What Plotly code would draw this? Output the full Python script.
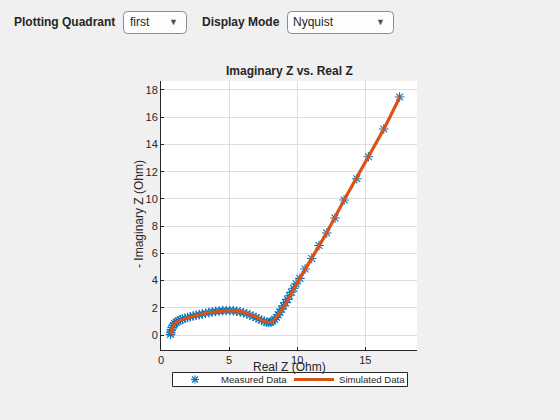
import plotly.graph_objects as go

# ---------------- data ----------------
meas_x = [0.70, 0.72, 0.76, 0.82, 0.90, 1.00, 1.12, 1.26, 1.42, 1.58, 1.76, 1.95, 2.15, 2.36,
          2.58, 2.80, 3.03, 3.27, 3.51, 3.76, 4.01, 4.27, 4.53, 4.79, 5.05, 5.31, 5.56, 5.81,
          6.06, 6.30, 6.53, 6.76, 6.98, 7.19, 7.39, 7.58, 7.76, 7.92, 8.07, 8.21, 8.34, 8.47,
          8.60, 8.73, 8.86, 9.00, 9.14, 9.28, 9.43, 9.58, 9.74, 9.92, 10.20, 10.58, 11.07,
          11.60, 12.17, 12.78, 13.45, 14.38, 15.23, 16.36, 17.52]
meas_y = [0.05, 0.20, 0.38, 0.55, 0.70, 0.84, 0.95, 1.04, 1.11, 1.17, 1.23, 1.29, 1.34, 1.40,
          1.45, 1.50, 1.55, 1.60, 1.65, 1.70, 1.74, 1.77, 1.79, 1.80, 1.80, 1.78, 1.75, 1.70,
          1.64, 1.56, 1.47, 1.38, 1.28, 1.18, 1.08, 1.00, 0.94, 0.92, 0.95, 1.03, 1.15, 1.30,
          1.48, 1.68, 1.90, 2.14, 2.38, 2.62, 2.88, 3.15, 3.44, 3.76, 4.16, 4.85, 5.62,
          6.58, 7.50, 8.60, 9.92, 11.48, 13.10, 15.13, 17.48]

sim_x = [0.75, 0.78, 0.86, 1.00, 1.27, 1.76, 2.74, 3.72, 4.95, 5.93, 6.91, 7.50, 7.90, 8.20,
         8.50, 8.87, 9.35, 10.09, 11.19, 12.17, 13.45, 15.23, 16.36, 17.55]
sim_y = [0.02, 0.30, 0.58, 0.82, 1.02, 1.22, 1.47, 1.67, 1.79, 1.70, 1.35, 1.05, 0.92, 1.00,
         1.35, 1.85, 2.65, 3.98, 5.85, 7.52, 9.92, 13.10, 15.13, 17.50]

x_ticks = [0, 5, 10, 15]
y_ticks = [0, 2, 4, 6, 8, 10, 12, 14, 16, 18]

title_text = "Imaginary Z vs. Real Z"
x_label = "Real Z (Ohm)"
y_label = "- Imaginary Z (Ohm)"
legend_names = ["Measured Data", "Simulated Data"]

BLUE = "#0072BD"
ORANGE = "#D95319"
FONT = "Liberation Sans, Arial, Helvetica, sans-serif"
W, H = 560, 420
L, R, T, B = 161, 417, 81, 350


def px(x):
    return (x - L) / (R - L)


def py(y):
    return (B - y) / (B - T)


fig = go.Figure()
fig.add_trace(go.Scatter(
    x=meas_x, y=meas_y, mode="markers", name=legend_names[0],
    marker=dict(symbol="asterisk-open", size=8, color=BLUE,
                line=dict(color=BLUE, width=1.1)),
))
fig.add_trace(go.Scatter(
    x=sim_x, y=sim_y, mode="lines", name=legend_names[1],
    line=dict(color=ORANGE, width=3.2, shape="spline", smoothing=0.8),
))

axis_common = dict(
    showgrid=True, gridcolor="#dedede", gridwidth=1,
    showline=True, linecolor="#262626", linewidth=1,
    ticks="inside", ticklen=3, tickcolor="#262626",
    tickfont=dict(family=FONT, size=11, color="#262626"),
    zeroline=False, mirror=False, fixedrange=True,
)

fig.update_xaxes(range=[0, 18.8], tickvals=x_ticks, **axis_common)
fig.update_yaxes(range=[-1.1, 18.66], tickvals=y_ticks, **axis_common)

shapes = []
annotations = []

# title and axis labels
annotations.append(dict(text="<b>" + title_text + "</b>", x=px(289), y=py(71), xref="paper", yref="paper",
                        showarrow=False, font=dict(family=FONT, size=12, color="#262626"),
                        xanchor="center", yanchor="middle"))
annotations.append(dict(text=y_label, x=px(139), y=py(214), xref="paper", yref="paper",
                        showarrow=False, textangle=-90, font=dict(family=FONT, size=12, color="#262626"),
                        xanchor="center", yanchor="middle"))
annotations.append(dict(text=x_label, x=px(289), y=py(366.5), xref="paper", yref="paper",
                        showarrow=False, font=dict(family=FONT, size=12, color="#262626"),
                        xanchor="center", yanchor="middle"))


def rounded_rect(x0, y0, x1, y1, r=4):
    X0, X1 = px(x0), px(x1)
    Y0, Y1 = py(y0), py(y1)
    rx = r / (R - L)
    ry = r / (B - T)
    p = (f"M {X0+rx},{Y0} L {X1-rx},{Y0} Q {X1},{Y0} {X1},{Y0-ry} "
         f"L {X1},{Y1+ry} Q {X1},{Y1} {X1-rx},{Y1} "
         f"L {X0+rx},{Y1} Q {X0},{Y1} {X0},{Y1+ry} "
         f"L {X0},{Y0-ry} Q {X0},{Y0} {X0+rx},{Y0} Z")
    return dict(type="path", path=p, xref="paper", yref="paper",
                line=dict(color="#8c8c8c", width=1), fillcolor="#fdfdfd", layer="above")


def pline(x0, y0, x1, y1, color, width):
    return dict(type="line", xref="paper", yref="paper", x0=px(x0), y0=py(y0), x1=px(x1), y1=py(y1),
                line=dict(color=color, width=width), layer="above")


# top controls
shapes.append(rounded_rect(123.5, 11.5, 186.5, 33.5))
shapes.append(rounded_rect(287.5, 11.5, 393.5, 33.5))

ctrl = [
    ("<b>Plotting Quadrant</b>", 12, "#262626", 12),
    ("first", 128, "#262626", 12),
    ("▼", 167, "#4d4d4d", 9),
    ("<b>Display Mode</b>", 200, "#262626", 12),
    ("Nyquist", 291, "#262626", 12),
    ("▼", 374, "#4d4d4d", 9),
]
for txt, xx, col, sz in ctrl:
    annotations.append(dict(text=txt, x=px(xx), y=py(22), xref="paper", yref="paper",
                            showarrow=False, font=dict(family=FONT, size=sz, color=col),
                            xanchor="left", yanchor="middle"))

# legend box (drawn by hand to match the compact MATLAB-style legend)
shapes.append(dict(type="rect", xref="paper", yref="paper",
                   x0=px(172.5), x1=px(407.5), y0=py(372.5), y1=py(386.5),
                   line=dict(color="#262626", width=1), fillcolor="#ffffff", layer="above"))
cx, cy, s = 195, 379.5, 4
shapes.append(pline(cx - s, cy, cx + s, cy, BLUE, 1.1))
shapes.append(pline(cx, cy - s, cx, cy + s, BLUE, 1.1))
shapes.append(pline(cx - 3, cy - 3, cx + 3, cy + 3, BLUE, 1.1))
shapes.append(pline(cx - 3, cy + 3, cx + 3, cy - 3, BLUE, 1.1))
shapes.append(pline(294, 379.5, 334, 379.5, ORANGE, 3.2))
for txt, xx in zip(legend_names, [219, 337]):
    annotations.append(dict(text=txt, x=px(xx), y=py(379.5), xref="paper", yref="paper",
                            showarrow=False, font=dict(family=FONT, size=9.6, color="#262626"),
                            xanchor="left", yanchor="middle"))

fig.update_layout(
    width=W, height=H,
    margin=dict(l=L, r=W - R, t=T, b=H - B, autoexpand=False),
    paper_bgcolor="#f0f0f0", plot_bgcolor="#ffffff",
    font=dict(family=FONT, color="#262626"),
    showlegend=False,
    shapes=shapes, annotations=annotations,
)

fig.write_html("out.html", config={"displayModeBar": False},
               post_script="document.body.style.margin='0';document.body.style.overflow='hidden';")
